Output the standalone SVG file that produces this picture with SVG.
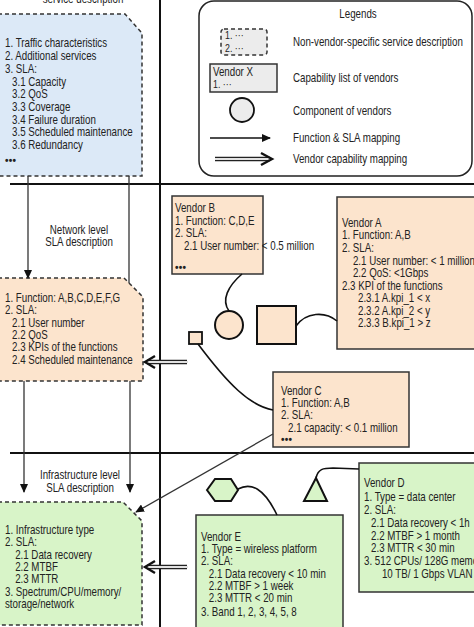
<svg xmlns="http://www.w3.org/2000/svg" width="474" height="627" viewBox="0 0 474 627">
<style>
.t{font-family:"Liberation Sans",Arial,sans-serif;font-size:12.5px;fill:#222}
.lt{font-family:"Liberation Sans",Arial,sans-serif;font-size:12.5px;fill:#222}
.sm{font-family:"Liberation Sans",Arial,sans-serif;font-size:11px;fill:#222}
.dots{font-family:"Liberation Sans",Arial,sans-serif;font-size:10px;font-weight:bold;fill:#222;letter-spacing:0.3px}
.frame{stroke:#111;stroke-width:2;fill:none}
.dash{stroke:#333;stroke-width:1.5;stroke-dasharray:4 3}
.box{stroke:#333;stroke-width:1.5}
.blue{fill:#dce9f7}
.peach{fill:#fce4cd}
.green{fill:#d8f4c8}
.grey{fill:#ececec}
.wire{stroke:#333;stroke-width:1.3;fill:none}
.curve{stroke:#111;stroke-width:1.6;fill:none}
.dbl-o{stroke:#222;stroke-width:4.5;fill:none}
.dbl-i{stroke:#e2e2e2;stroke-width:2;fill:none}
.chev{stroke:#111;stroke-width:2.4;fill:none;stroke-linejoin:miter}
</style>
<defs>
<marker id="ah" markerWidth="9" markerHeight="8" refX="8" refY="4" orient="auto" markerUnits="userSpaceOnUse">
<path d="M0,0 L9,4 L0,8 Z" fill="#111"/>
</marker>
</defs>
<rect x="0" y="0" width="474" height="627" fill="#ffffff"/>

<g id="frame">
<line class="frame" x1="160" y1="0" x2="160" y2="627"/>
<line class="frame" x1="10" y1="184" x2="474" y2="184"/>
<line class="frame" x1="10" y1="453" x2="474" y2="453"/>
</g>

<g id="service-label">
<text class="lt" transform="translate(83,0) scale(0.78,1)" x="0" y="3" text-anchor="middle">service description</text>
</g>

<g id="service-box">
<path class="dash blue" d="M-2,14 L125,14 L142,33 L142,176 L-2,176 Z"/>
<g transform="translate(5,0) scale(0.78,1)">
<text class="t" x="0" y="47">1. Traffic characteristics</text>
<text class="t" x="0" y="60">2. Additional services</text>
<text class="t" x="0" y="73">3. SLA:</text>
<text class="t" x="9" y="86">3.1 Capacity</text>
<text class="t" x="9" y="98">3.2 QoS</text>
<text class="t" x="9" y="111">3.3 Coverage</text>
<text class="t" x="9" y="124">3.4 Failure duration</text>
<text class="t" x="9" y="136">3.5 Scheduled maintenance</text>
<text class="t" x="9" y="149">3.6 Redundancy</text>
</g>
<text class="dots" x="5" y="164">•••</text>
</g>

<g id="legend">
<rect x="199" y="1" width="273" height="175" rx="15" fill="#ffffff" stroke="#222" stroke-width="1.5"/>
<text class="lt" transform="translate(358,0) scale(0.78,1)" x="0" y="18" text-anchor="middle">Legends</text>
<rect class="dash grey" x="221" y="29" width="46" height="26" rx="3"/>
<text class="sm" transform="translate(225,0) scale(0.8,1)" x="0" y="39">1. ···</text>
<text class="sm" transform="translate(225,0) scale(0.8,1)" x="0" y="52">2. ···</text>
<rect class="box grey" x="210" y="64" width="67" height="28"/>
<text class="lt" transform="translate(213,0) scale(0.78,1)" x="0" y="76">Vendor X</text>
<text class="sm" transform="translate(213,0) scale(0.8,1)" x="0" y="88">1. ···</text>
<circle cx="242" cy="110" r="12" class="grey" stroke="#111" stroke-width="1.8"/>
<line x1="210" y1="138" x2="270" y2="138" stroke="#111" stroke-width="1.3" marker-end="url(#ah)"/>
<line class="dbl-o" x1="215" y1="159" x2="270" y2="159"/>
<line class="dbl-i" x1="215" y1="159" x2="271" y2="159"/>
<polyline class="chev" points="261,153 272,159 261,165"/>
<g transform="translate(293,0) scale(0.78,1)">
<text class="lt" x="0" y="46">Non-vendor-specific service description</text>
<text class="lt" x="0" y="82">Capability list of vendors</text>
<text class="lt" x="0" y="115">Component of vendors</text>
<text class="lt" x="0" y="142">Function &amp; SLA mapping</text>
<text class="lt" x="0" y="163">Vendor capability mapping</text>
</g>
</g>

<g id="network-label">
<text class="lt" transform="translate(79,0) scale(0.78,1)" x="0" y="234" text-anchor="middle">Network level</text>
<text class="lt" transform="translate(79,0) scale(0.78,1)" x="0" y="246" text-anchor="middle">SLA description</text>
</g>

<g id="network-box">
<path class="dash peach" d="M-2,278 L124,278 L143,297 L143,381 L-2,381 Z"/>
<g transform="translate(5,0) scale(0.78,1)">
<text class="t" x="0" y="302">1. Function: A,B,C,D,E,F,G</text>
<text class="t" x="0" y="314">2. SLA:</text>
<text class="t" x="9" y="327">2.1 User number</text>
<text class="t" x="9" y="339">2.2 QoS</text>
<text class="t" x="9" y="351">2.3 KPIs of the functions</text>
<text class="t" x="9" y="364">2.4 Scheduled maintenance</text>
</g>
</g>

<g id="vendor-b">
<rect class="box peach" x="172" y="196" width="91" height="78"/>
<g transform="translate(175,0) scale(0.78,1)">
<text class="t" x="0" y="212">Vendor B</text>
<text class="t" x="0" y="225">1. Function: C,D,E</text>
<text class="t" x="0" y="237">2. SLA:</text>
<text class="t" x="11.5" y="250">2.1 User number: &lt; 0.5 million</text>
</g>
<text class="dots" x="175" y="271">•••</text>
</g>

<g id="vendor-a">
<rect class="box peach" x="337" y="197" width="150" height="152"/>
<g transform="translate(342,0) scale(0.78,1)">
<text class="t" x="0" y="227">Vendor A</text>
<text class="t" x="0" y="239">1. Function: A,B</text>
<text class="t" x="0" y="252">2. SLA:</text>
<text class="t" x="14" y="265">2.1 User number: &lt; 1 million</text>
<text class="t" x="14" y="277">2.2 QoS: &lt;1Gbps</text>
<text class="t" x="0" y="290">2.3 KPI of the functions</text>
<text class="t" x="20.5" y="302">2.3.1 A.kpi_1 &lt; x</text>
<text class="t" x="20.5" y="315">2.3.2 A.kpi_2 &lt; y</text>
<text class="t" x="20.5" y="327">2.3.3 B.kpi_1 &gt; z</text>
</g>
</g>

<g id="component-circle">
<circle class="peach" cx="229" cy="325" r="14" stroke="#111" stroke-width="2"/>
</g>
<g id="component-square">
<rect class="peach" x="257" y="306" width="39" height="38" stroke="#111" stroke-width="2"/>
</g>
<g id="component-small-square">
<rect class="peach" x="189" y="332" width="13" height="12" stroke="#111" stroke-width="1.8"/>
</g>

<g id="vendor-c">
<rect class="box peach" x="273" y="372" width="136" height="75"/>
<g transform="translate(281,0) scale(0.78,1)">
<text class="t" x="0" y="395">Vendor C</text>
<text class="t" x="0" y="407">1. Function: A,B</text>
<text class="t" x="0" y="419">2. SLA:</text>
<text class="t" x="9" y="432">2.1 capacity: &lt; 0.1 million</text>
</g>
<text class="dots" x="281" y="443">•••</text>
</g>

<g id="infra-label">
<text class="lt" transform="translate(80,0) scale(0.78,1)" x="0" y="479" text-anchor="middle">Infrastructure level</text>
<text class="lt" transform="translate(80,0) scale(0.78,1)" x="0" y="492" text-anchor="middle">SLA description</text>
</g>

<g id="infra-box">
<path class="dash green" d="M-2,502 L123,502 L142,521 L142,625 L-2,625 Z"/>
<g transform="translate(5,0) scale(0.78,1)">
<text class="t" x="0" y="534">1. Infrastructure type</text>
<text class="t" x="0" y="546">2. SLA:</text>
<text class="t" x="13" y="559">2.1 Data recovery</text>
<text class="t" x="13" y="571">2.2 MTBF</text>
<text class="t" x="13" y="583">2.3 MTTR</text>
<text class="t" x="0" y="596">3. Spectrum/CPU/memory/</text>
<text class="t" x="0" y="608">storage/network</text>
</g>
</g>

<g id="component-hexagon">
<polygon class="green" points="207,490 215,479 231,479 238,490 231,501 215,501" stroke="#111" stroke-width="2"/>
</g>
<g id="component-triangle">
<polygon class="green" points="316,478 304,501 327,501" stroke="#111" stroke-width="2"/>
</g>

<g id="vendor-d">
<rect class="box green" x="359" y="463" width="130" height="129"/>
<g transform="translate(364,0) scale(0.78,1)">
<text class="t" x="0" y="487">Vendor D</text>
<text class="t" x="0" y="501">1. Type = data center</text>
<text class="t" x="0" y="514">2. SLA:</text>
<text class="t" x="9" y="527">2.1 Data recovery &lt; 1h</text>
<text class="t" x="9" y="540">2.2 MTBF &gt; 1 month</text>
<text class="t" x="9" y="552">2.3 MTTR &lt; 30 min</text>
<text class="t" x="0" y="565">3. 512 CPUs/ 128G memory/</text>
<text class="t" x="23" y="578">10 TB/ 1 Gbps VLAN</text>
</g>
</g>

<g id="vendor-e">
<rect class="box green" x="196" y="515" width="147" height="120"/>
<g transform="translate(201,0) scale(0.78,1)">
<text class="t" x="0" y="541">Vendor E</text>
<text class="t" x="0" y="553">1. Type = wireless platform</text>
<text class="t" x="0" y="565">2. SLA:</text>
<text class="t" x="10" y="578">2.1 Data recovery &lt; 10 min</text>
<text class="t" x="10" y="590">2.2 MTBF &gt; 1 week</text>
<text class="t" x="10" y="602">2.3 MTTR &lt; 20 min</text>
<text class="t" x="0" y="616">3. Band 1, 2, 3, 4, 5, 8</text>
</g>
</g>

<g id="connectors">
<line class="wire" x1="28" y1="176" x2="28" y2="278" marker-end="url(#ah)"/>
<line class="wire" x1="129" y1="176" x2="129" y2="283"/>
<line class="wire" x1="24" y1="381" x2="24" y2="492" marker-end="url(#ah)"/>
<line class="wire" x1="130" y1="381" x2="130" y2="492" marker-end="url(#ah)"/>
<line class="wire" x1="273" y1="434" x2="136" y2="512" marker-end="url(#ah)"/>
<path class="curve" d="M242,274 C228,286 221,300 229,311"/>
<path class="curve" d="M296,326 C306,312 325,311 337,321"/>
<path class="curve" d="M198,344 C228,384 250,406 273,410"/>
<path class="curve" d="M238,489 C251,482 264,488 277,515"/>
<path class="curve" d="M316,478 C318,469 323,468 333,468 L359,469"/>
<line class="dbl-o" x1="187" y1="362" x2="147" y2="362"/>
<line class="dbl-i" x1="188" y1="362" x2="146" y2="362"/>
<polyline class="chev" points="155,356 145,362 155,368"/>
<line class="dbl-o" x1="187" y1="567" x2="147" y2="567"/>
<line class="dbl-i" x1="188" y1="567" x2="146" y2="567"/>
<polyline class="chev" points="155,561 145,567 155,573"/>
</g>
</svg>
